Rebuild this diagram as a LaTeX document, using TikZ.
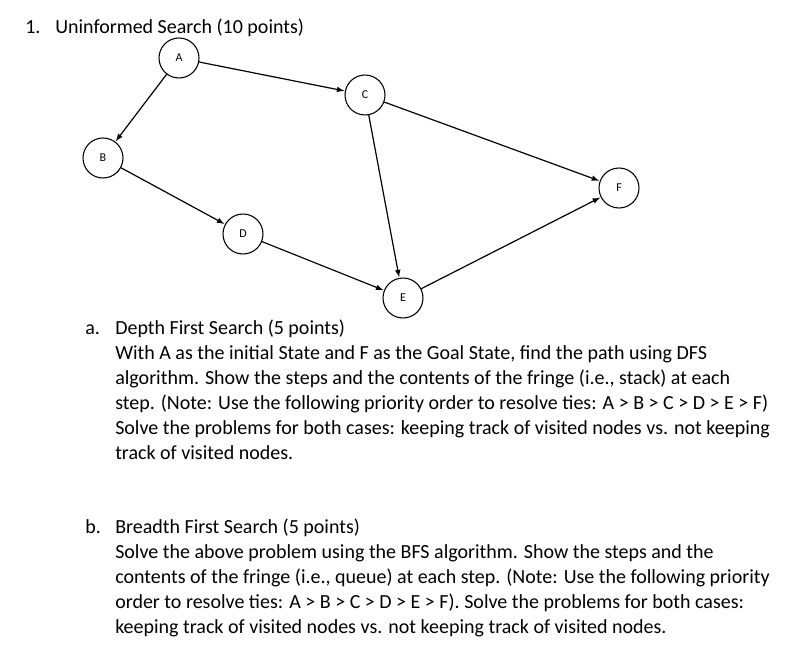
\documentclass[tikz,border=0pt]{standalone}
\usepackage{fontspec}
\setmainfont{Carlito}
\begin{document}
\begin{tikzpicture}[x=0.75pt,y=-0.75pt,
  st/.style={circle,draw,line width=0.8pt,minimum size=30pt,inner sep=0pt,font=\fontsize{9}{10}\selectfont},
  ed/.style={-latex,line width=0.9pt,shorten >=0.5pt},
  tx/.style={anchor=base west,inner sep=0pt,font=\fontsize{15}{18}\selectfont}]
\useasboundingbox (0,0) rectangle (812,671);
\node[st] (A) at (179,58) {A};
\node[st] (B) at (103,158) {B};
\node[st] (C) at (365,95) {C};
\node[st] (D) at (243,234) {D};
\node[st] (E) at (403,298) {E};
\node[st] (F) at (619,188) {F};
\draw[ed] (A) -- (B);
\draw[ed] (A) -- (C);
\draw[ed] (B) -- (D);
\draw[ed] (C) -- (E);
\draw[ed] (C) -- (F);
\draw[ed] (D) -- (E);
\draw[ed] (E) -- (F);
\node[tx] (t0) at (25,33) {1.};
\node[tx] (t1) at (55,33) {Uninformed Search (10 points)};
\node[tx] (a0) at (85,334) {a.};
\node[tx] (a1) at (115,334) {Depth First Search (5 points)};
\node[tx] (a2) at (115,359) {With A as the initial State and F as the Goal State, find the path using DFS};
\node[tx] (a3) at (115,384) {algorithm. Show the steps and the contents of the fringe (i.e., stack) at each};
\node[tx] (a4) at (115,409) {step. (Note: Use the following priority order to resolve ties: A > B > C > D > E > F)};
\node[tx] (a5) at (115,434) {Solve the problems for both cases: keeping track of visited nodes vs. not keeping};
\node[tx] (a6) at (115,459) {track of visited nodes.};
\node[tx] (b0) at (85,533) {b.};
\node[tx] (b1) at (115,533) {Breadth First Search (5 points)};
\node[tx] (b2) at (115,558) {Solve the above problem using the BFS algorithm. Show the steps and the};
\node[tx] (b3) at (115,583) {contents of the fringe (i.e., queue) at each step. (Note: Use the following priority};
\node[tx] (b4) at (115,608) {order to resolve ties: A > B > C > D > E > F). Solve the problems for both cases:};
\node[tx] (b5) at (115,633) {keeping track of visited nodes vs. not keeping track of visited nodes.};
\end{tikzpicture}
\end{document}
